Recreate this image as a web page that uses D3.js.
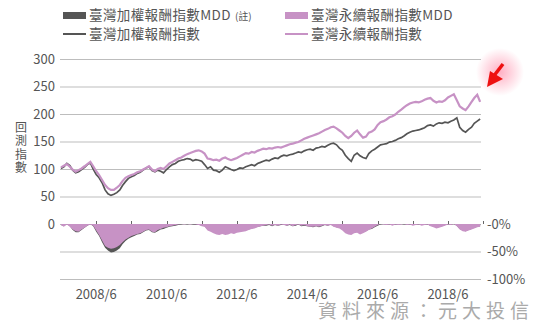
<!DOCTYPE html>
<html><head><meta charset="utf-8">
<script src="https://cdn.jsdelivr.net/npm/d3@7"></script>
<style>
body{margin:0;background:#fff;}
svg{display:block;font-family:"Noto Sans CJK TC","Noto Sans",sans-serif;}
</style></head><body>
<svg id="c" width="537" height="322"></svg>
<script>
// ---- data ----
const startMonth = "2007-06";
const taiexReturn = [101,104,110,106,98,93,95,99,103,108,111,100,90,84,75,62,55,52,54,57,62,70,77,83,86,88,92,94,98,102,104,97,95,98,96,93,99,104,108,110,114,116,117,119,118,115,117,116,114,108,101,104,98,97,94,98,104,102,99,97,99,102,101,104,106,108,106,110,112,114,116,115,118,120,119,123,125,124,126,127,129,131,130,133,135,136,134,138,139,141,140,143,146,147,144,138,134,125,119,114,125,129,124,121,119,128,133,136,140,144,145,146,149,150,152,155,157,160,164,167,169,170,171,173,175,179,180,178,182,184,183,185,184,187,189,193,176,170,167,172,176,183,187,191];
const sustainReturn = [103,106,109,104,99,95,98,101,105,109,113,105,96,89,80,71,65,62,62,66,71,78,84,87,89,91,94,96,99,102,105,99,96,100,102,100,105,110,113,116,119,121,124,127,129,131,133,134,132,128,119,118,116,117,115,119,121,118,116,118,120,123,126,129,128,131,130,133,135,137,136,138,137,139,140,139,141,143,145,146,148,149,152,155,157,159,161,163,165,168,171,173,176,177,174,170,166,160,156,160,166,170,163,157,159,166,168,172,180,185,187,190,194,196,199,204,208,212,216,219,221,222,221,223,226,228,229,224,221,223,222,225,230,233,236,225,214,210,207,214,222,229,235,222];
// maximum drawdown (%)
const taiexMDD = [-2,-4,0,-4,-11,-15,-15,-11,-7,-3,0,-4,-14,-22,-33,-43,-48,-52,-51,-48,-44,-37,-31,-27,-24,-22,-19,-18,-15,-12,-11,-15,-16,-13,-10,-9,-7,-5,-4,-3,-2,-1,0,-1,0,-1,-2,-1,-3,-4,-10,-12,-15,-17,-18,-17,-18,-17,-15,-16,-14,-13,-12,-11,-10,-8,-7,-5,-4,-3,-3,-2,-4,-2,-3,-2,-1,-3,-2,-4,-3,-1,-4,-3,-4,-5,-6,-4,-6,-4,-2,-3,-1,-4,-6,-7,-10,-15,-17,-18,-15,-14,-17,-15,-13,-10,-9,-6,-3,-1,0,-1,-1,-2,-1,-1,0,-1,-1,-1,-2,-1,-1,-2,-1,-1,-3,-4,-6,-5,-4,-2,-1,-1,0,-3,-9,-12,-13,-11,-9,-7,-5,-4];
const sustainMDD = [-2,-5,-1,-5,-10,-13,-14,-10,-7,-3,-1,-3,-12,-20,-30,-40,-43,-45,-44,-42,-38,-33,-28,-25,-22,-20,-18,-17,-14,-11,-10,-14,-15,-11,-9,-7,-6,-4,-3,-2,-1,0,-1,0,-1,0,-1,-2,-4,-5,-12,-14,-17,-19,-20,-18,-20,-19,-17,-18,-16,-15,-14,-13,-11,-9,-8,-6,-4,-3,-2,-1,-3,-2,-3,-1,-2,-3,-1,-4,-2,-1,-3,-2,-4,-5,-5,-4,-5,-3,-2,-3,-2,-5,-7,-8,-12,-17,-19,-20,-17,-16,-19,-17,-14,-11,-8,-5,-2,0,-1,-2,-1,-3,-1,-2,-1,0,-2,-1,-3,-2,-1,-3,-2,-1,-4,-6,-8,-7,-5,-3,-1,-2,0,-4,-10,-13,-14,-12,-10,-8,-6,-5];
const xTickLabels = ["2008/6","2010/6","2012/6","2014/6","2016/6","2018/6"];
const yTicksLeft = [0,50,100,150,200,250,300];
const yTicksRight = [0,-50,-100];
const yTicksRightLabels = ["-0%","-50%","-100%"];
const legendLabels = ["臺灣加權報酬指數MDD","臺灣永續報酬指數MDD","臺灣加權報酬指數","臺灣永續報酬指數"];
const yTitle = "回測指數";

// ---- setup ----
const DARK="#555555", PINK="#c792c5", GRID="#bdbdbd", TXT="#555";
const svg=d3.select("#c");
const parse=d3.timeParse("%Y-%m");
const t0=parse(startMonth);
const dates=taiexReturn.map((_,i)=>d3.timeMonth.offset(t0,i));
const x=d3.scaleTime().domain([new Date(2007,4,22),new Date(2019,4,10)]).range([60,481]);
const y=d3.scaleLinear().domain([-100,300]).range([279,59]);

// gridlines
svg.append("g").selectAll("line").data(yTicksLeft.concat([-50,-100])).join("line")
 .attr("x1",60).attr("x2",481).attr("y1",d=>y(d)+0.5).attr("y2",d=>y(d)+0.5)
 .attr("stroke",GRID).attr("stroke-width",1);

// year ticks on zero line
const yearTicks=d3.range(2008,2020).map(yr=>new Date(yr,5,1));
svg.append("g").selectAll("line").data(yearTicks).join("line")
 .attr("x1",d=>Math.round(x(d))+0.5).attr("x2",d=>Math.round(x(d))+0.5)
 .attr("y1",y(0)-3).attr("y2",y(0)).attr("stroke","#666");

// MDD areas
const area=d3.area().x((d,i)=>x(dates[i])).y0(y(0)).y1(d=>y(d));
svg.append("path").datum(taiexMDD).attr("d",area).attr("fill",DARK);
svg.append("path").datum(sustainMDD).attr("d",area).attr("fill",PINK);

// lines
const line=d3.line().x((d,i)=>x(dates[i])).y(d=>y(d));
svg.append("path").datum(taiexReturn).attr("d",line).attr("fill","none").attr("stroke",DARK).attr("stroke-width",1.7);
svg.append("path").datum(sustainReturn).attr("d",line).attr("fill","none").attr("stroke",PINK).attr("stroke-width",2.2);

// left axis labels
svg.append("g").selectAll("text").data(yTicksLeft).join("text")
 .attr("x",55).attr("y",d=>y(d)).attr("dy","0.35em").attr("text-anchor","end")
 .attr("font-size",13).attr("fill",TXT).text(d=>d);
// right axis labels
svg.append("g").selectAll("text").data(yTicksRight).join("text")
 .attr("x",487).attr("y",d=>y(d)).attr("dy","0.35em")
 .attr("font-size",13).attr("fill",TXT).text((d,i)=>yTicksRightLabels[i]);
// x labels
svg.append("g").selectAll("text").data(xTickLabels).join("text")
 .attr("x",d=>x(d3.timeParse("%Y/%m")(d))).attr("y",294).attr("dy","0.35em").attr("text-anchor","middle")
 .attr("font-size",13).attr("fill",TXT).text(d=>d);
// y title vertical
svg.append("text").attr("x",21).attr("y",121).attr("writing-mode","tb")
 .attr("font-size",12).attr("letter-spacing",1.5).attr("fill",TXT).text(yTitle);

// legend
const lg=svg.append("g");
const cols=[63,285];
lg.append("rect").attr("x",cols[0]).attr("y",12).attr("width",23).attr("height",7).attr("fill",DARK);
lg.append("rect").attr("x",cols[1]).attr("y",12).attr("width",23).attr("height",7).attr("fill",PINK);
lg.append("line").attr("x1",cols[0]).attr("x2",cols[0]+23).attr("y1",34).attr("y2",34).attr("stroke",DARK).attr("stroke-width",2);
lg.append("line").attr("x1",cols[1]).attr("x2",cols[1]+23).attr("y1",34).attr("y2",34).attr("stroke",PINK).attr("stroke-width",2);
const LFS=13.5, LLS=0.4;
const t1=lg.append("text").attr("x",89).attr("y",15.5).attr("dy","0.35em").attr("font-size",LFS).attr("letter-spacing",LLS).attr("fill",TXT);
t1.append("tspan").text(legendLabels[0]);
t1.append("tspan").attr("font-size",10).attr("letter-spacing",0).attr("dx",4).text("(註)");
lg.append("text").attr("x",311).attr("y",15.5).attr("dy","0.35em").attr("font-size",LFS).attr("letter-spacing",LLS).attr("fill",TXT).text(legendLabels[1]);
lg.append("text").attr("x",89).attr("y",34).attr("dy","0.35em").attr("font-size",LFS).attr("letter-spacing",LLS).attr("fill",TXT).text(legendLabels[2]);
lg.append("text").attr("x",311).attr("y",34).attr("dy","0.35em").attr("font-size",LFS).attr("letter-spacing",LLS).attr("fill",TXT).text(legendLabels[3]);

// source
svg.append("text").attr("x",318).attr("y",311).attr("dy","0.35em").attr("font-size",19).attr("letter-spacing",5)
 .attr("fill","#aaaaaa").text("資料來源：元大投信");

// highlight arrow with glow
const defs=svg.append("defs");
const rg=defs.append("radialGradient").attr("id","glow");
rg.append("stop").attr("offset","0%").attr("stop-color","#ff4d7a").attr("stop-opacity",0.45);
rg.append("stop").attr("offset","100%").attr("stop-color","#ff4d7a").attr("stop-opacity",0);
svg.append("circle").attr("cx",500).attr("cy",72).attr("r",24).attr("fill","url(#glow)");
svg.append("line").attr("x1",503).attr("y1",64).attr("x2",493).attr("y2",77).attr("stroke","#ee1111").attr("stroke-width",3.5);
svg.append("path").attr("d","M487,87 L490,71 L503,79 Z").attr("fill","#ee1111");
</script></body></html>
